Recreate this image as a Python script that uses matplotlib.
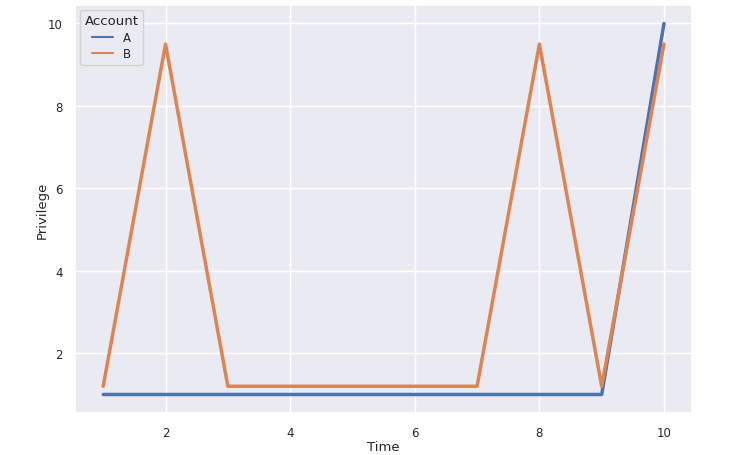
import matplotlib
matplotlib.use("Agg")
import matplotlib.pyplot as plt
import seaborn as sns
from matplotlib.lines import Line2D

time = [1, 2, 3, 4, 5, 6, 7, 8, 9, 10]
priv_a = [1, 1, 1, 1, 1, 1, 1, 1, 1, 10]
priv_b = [1.2, 9.5, 1.2, 1.2, 1.2, 1.2, 1.2, 9.5, 1.2, 9.5]

sns.set_theme(style="darkgrid")
blue, orange = sns.color_palette()[0], sns.color_palette()[1]

fig = plt.figure(figsize=(7.3, 4.56), dpi=100)
ax = fig.add_axes([0.103, 0.092, 0.845, 0.895])

ax.plot(time, priv_a, color=blue, lw=2.5)
ax.plot(time, priv_b, color=orange, lw=2.5)

ax.set_xlabel("Time", fontsize=9.5, labelpad=1)
ax.set_ylabel("Privilege", fontsize=9.5, labelpad=-1)
ax.tick_params(labelsize=8.5, pad=3)

handles = [Line2D([], [], color=blue, lw=1.5), Line2D([], [], color=orange, lw=1.5)]
ax.legend(handles, ["A", "B"], title="Account", loc="upper left",
          fontsize=8.5, title_fontsize=9.5, handlelength=1.8,
          labelspacing=0.3, borderaxespad=0.4)

fig.savefig("out.png", dpi=100)
